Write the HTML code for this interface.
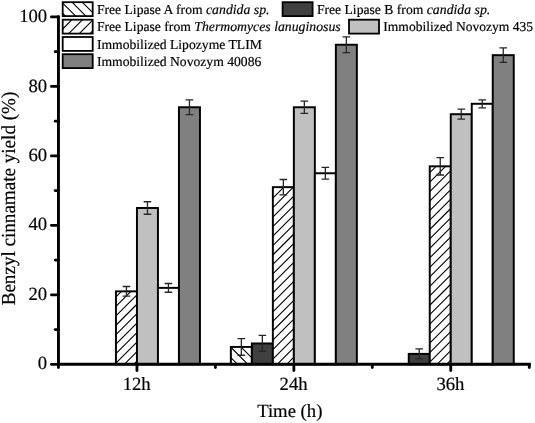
<!DOCTYPE html>
<html lang="en"><head><meta charset="utf-8"><title>Benzyl cinnamate yield</title>
<style>
html,body{margin:0;padding:0;background:#fff;}
body{width:535px;height:423px;overflow:hidden;}
svg{display:block;}
text{font-family:"Liberation Serif","Times New Roman",serif;fill:#000;text-rendering:geometricPrecision;stroke:#000;stroke-width:0.18px;}
.ax{font-size:18.7px;}
.lg{font-size:13.65px;}
.i{font-style:italic;font-size:13.78px;}
</style></head><body>
<svg width="535" height="423" viewBox="0 0 535 423">
<rect width="535" height="423" fill="#fff"/>

<g stroke="#000" stroke-width="1.95">
<rect x="115.95" y="291.36" width="21.0" height="72.94" fill="#ffffff"/>
<rect x="136.95" y="207.99" width="21.0" height="156.31" fill="#c0c0c0"/>
<rect x="157.95" y="287.88" width="21.0" height="76.42" fill="#ffffff"/>
<rect x="178.95" y="107.26" width="21.0" height="257.04" fill="#808080"/>
<rect x="230.85" y="346.93" width="21.0" height="17.37" fill="#ffffff"/>
<rect x="251.85" y="343.46" width="21.0" height="20.84" fill="#404040"/>
<rect x="272.85" y="187.15" width="21.0" height="177.15" fill="#ffffff"/>
<rect x="293.85" y="107.26" width="21.0" height="257.04" fill="#c0c0c0"/>
<rect x="314.85" y="173.26" width="21.0" height="191.04" fill="#ffffff"/>
<rect x="335.85" y="44.74" width="21.0" height="319.56" fill="#808080"/>
<rect x="408.75" y="353.88" width="21.0" height="10.42" fill="#404040"/>
<rect x="429.75" y="166.31" width="21.0" height="197.99" fill="#ffffff"/>
<rect x="450.75" y="114.21" width="21.0" height="250.09" fill="#c0c0c0"/>
<rect x="471.75" y="103.79" width="21.0" height="260.51" fill="#ffffff"/>
<rect x="492.75" y="55.16" width="21.0" height="309.14" fill="#808080"/>
</g>
<g stroke="#000" stroke-width="1.1" fill="none">
<path d="M115.95,296.83 L121.42,291.36 M115.95,306.30 L130.89,291.36 M115.95,315.77 L136.95,294.77 M115.95,325.24 L136.95,304.24 M115.95,334.71 L136.95,313.71 M115.95,344.18 L136.95,323.18 M115.95,353.65 L136.95,332.65 M115.95,363.12 L136.95,342.12 M124.24,364.30 L136.95,351.59 M133.71,364.30 L136.95,361.06"/>
<path d="M230.85,357.55 L237.60,364.30 M230.85,347.25 L247.90,364.30 M240.83,346.93 L251.85,357.95 M251.13,346.93 L251.85,347.65"/>
<path d="M272.85,188.71 L274.41,187.15 M272.85,198.18 L283.88,187.15 M272.85,207.65 L293.35,187.15 M272.85,217.12 L293.85,196.12 M272.85,226.59 L293.85,205.59 M272.85,236.06 L293.85,215.06 M272.85,245.53 L293.85,224.53 M272.85,255.00 L293.85,234.00 M272.85,264.47 L293.85,243.47 M272.85,273.94 L293.85,252.94 M272.85,283.41 L293.85,262.41 M272.85,292.88 L293.85,271.88 M272.85,302.35 L293.85,281.35 M272.85,311.82 L293.85,290.82 M272.85,321.29 L293.85,300.29 M272.85,330.76 L293.85,309.76 M272.85,340.23 L293.85,319.23 M272.85,349.70 L293.85,328.70 M272.85,359.17 L293.85,338.17 M277.19,364.30 L293.85,347.64 M286.66,364.30 L293.85,357.11"/>
<path d="M429.75,172.68 L436.12,166.31 M429.75,182.15 L445.59,166.31 M429.75,191.62 L450.75,170.62 M429.75,201.09 L450.75,180.09 M429.75,210.56 L450.75,189.56 M429.75,220.03 L450.75,199.03 M429.75,229.50 L450.75,208.50 M429.75,238.97 L450.75,217.97 M429.75,248.44 L450.75,227.44 M429.75,257.91 L450.75,236.91 M429.75,267.38 L450.75,246.38 M429.75,276.85 L450.75,255.85 M429.75,286.32 L450.75,265.32 M429.75,295.79 L450.75,274.79 M429.75,305.26 L450.75,284.26 M429.75,314.73 L450.75,293.73 M429.75,324.20 L450.75,303.20 M429.75,333.67 L450.75,312.67 M429.75,343.14 L450.75,322.14 M429.75,352.61 L450.75,331.61 M429.75,362.08 L450.75,341.08 M437.00,364.30 L450.75,350.55 M446.47,364.30 L450.75,360.02"/>
</g>
<g stroke="#262626" stroke-width="1.3" fill="none">
<path d="M126.45,286.49 V296.22 M122.65,286.49 h7.6 M122.65,296.22 h7.6"/>
<path d="M147.45,201.74 V214.24 M143.65,201.74 h7.6 M143.65,214.24 h7.6"/>
<path d="M168.45,283.51 V292.26 M164.65,283.51 h7.6 M164.65,292.26 h7.6"/>
<path d="M189.45,99.97 V114.56 M185.65,99.97 h7.6 M185.65,114.56 h7.6"/>
<path d="M241.35,338.60 V355.27 M237.55,338.60 h7.6 M237.55,355.27 h7.6"/>
<path d="M262.35,335.47 V351.45 M258.55,335.47 h7.6 M258.55,351.45 h7.6"/>
<path d="M283.35,179.51 V194.79 M279.55,179.51 h7.6 M279.55,194.79 h7.6"/>
<path d="M304.35,101.15 V113.37 M300.55,101.15 h7.6 M300.55,113.37 h7.6"/>
<path d="M325.35,167.35 V179.16 M321.55,167.35 h7.6 M321.55,179.16 h7.6"/>
<path d="M346.35,36.85 V52.62 M342.55,36.85 h7.6 M342.55,52.62 h7.6"/>
<path d="M419.25,348.88 V358.88 M415.45,348.88 h7.6 M415.45,358.88 h7.6"/>
<path d="M440.25,157.63 V174.99 M436.45,157.63 h7.6 M436.45,174.99 h7.6"/>
<path d="M461.25,109.21 V119.21 M457.45,109.21 h7.6 M457.45,119.21 h7.6"/>
<path d="M482.25,99.79 V107.78 M478.45,99.79 h7.6 M478.45,107.78 h7.6"/>
<path d="M503.25,47.90 V62.42 M499.45,47.90 h7.6 M499.45,62.42 h7.6"/>
</g>
<g stroke="#000" stroke-width="2.9" fill="none" stroke-linecap="butt">
<path d="M58.45,15.50 V365.75"/>
<path d="M57.0,364.3 H530.75"/>
</g>
<g stroke="#000" stroke-width="2.8" fill="none" stroke-linecap="round">
<path d="M51.4,364.30 H58.45"/>
<path d="M55.2,329.56 H58.45"/>
<path d="M51.4,294.83 H58.45"/>
<path d="M55.2,260.10 H58.45"/>
<path d="M51.4,225.36 H58.45"/>
<path d="M55.2,190.62 H58.45"/>
<path d="M51.4,155.89 H58.45"/>
<path d="M55.2,121.16 H58.45"/>
<path d="M51.4,86.42 H58.45"/>
<path d="M55.2,51.69 H58.45"/>
<path d="M51.4,16.95 H58.45"/>
<path d="M136.95,364.3 V370.6"/>
<path d="M293.85,364.3 V370.6"/>
<path d="M450.75,364.3 V370.6"/>
<path d="M58.45,364.3 V367.6"/>
<path d="M215.40,364.3 V367.6"/>
<path d="M372.30,364.3 V367.6"/>
<path d="M529.30,364.3 V367.6"/>
</g>
<g class="ax" text-anchor="end">
<text x="47.2" y="369.40">0</text>
<text x="47.2" y="299.93">20</text>
<text x="47.2" y="230.46">40</text>
<text x="47.2" y="160.99">60</text>
<text x="47.2" y="91.52">80</text>
<text x="47.2" y="22.05">100</text>
</g>
<g class="ax" text-anchor="middle">
<text x="136.65" y="390">12h</text>
<text x="293.55" y="390">24h</text>
<text x="450.45" y="390">36h</text>
<text x="289.8" y="416.8">Time (h)</text>
<text transform="translate(14.7,198.5) rotate(-90) scale(1.022,1.06)">Benzyl cinnamate yield (%)</text>
</g>
<g stroke="#000" stroke-width="1.8">
<rect x="62.7" y="2.2" width="30" height="13.9" fill="#fff"/>
<rect x="62.7" y="19.7" width="30" height="13.9" fill="#fff"/>
<rect x="62.7" y="37.0" width="30" height="13.9" fill="#fff"/>
<rect x="62.7" y="54.2" width="30" height="13.9" fill="#808080"/>
<rect x="282.6" y="2.2" width="30" height="13.9" fill="#404040"/>
<rect x="349.0" y="19.7" width="30" height="13.9" fill="#c0c0c0"/>
</g>
<g stroke="#000" stroke-width="1.1" fill="none">
<path d="M62.70,13.30 L65.50,16.10 M62.70,3.10 L75.70,16.10 M72.00,2.20 L85.90,16.10 M82.20,2.20 L92.70,12.70"/>
<path d="M62.70,29.00 L72.00,19.70 M68.70,33.60 L82.60,19.70 M79.30,33.60 L92.70,20.20 M89.90,33.60 L92.70,30.80"/>
</g>
<g class="lg">
<text x="96.9" y="14">Free Lipase A from <tspan class="i">candida sp.</tspan></text>
<text x="96.9" y="31.4">Free Lipase from <tspan class="i">Thermomyces lanuginosus</tspan></text>
<text x="96.9" y="48.8">Immobilized Lipozyme TLIM</text>
<text x="96.9" y="66">Immobilized Novozym 40086</text>
<text x="316.9" y="14">Free Lipase B from <tspan class="i">candida sp.</tspan></text>
<text x="383.3" y="31.4" style="font-size:13.55px">Immobilized Novozym 435</text>
</g>
</svg></body></html>
